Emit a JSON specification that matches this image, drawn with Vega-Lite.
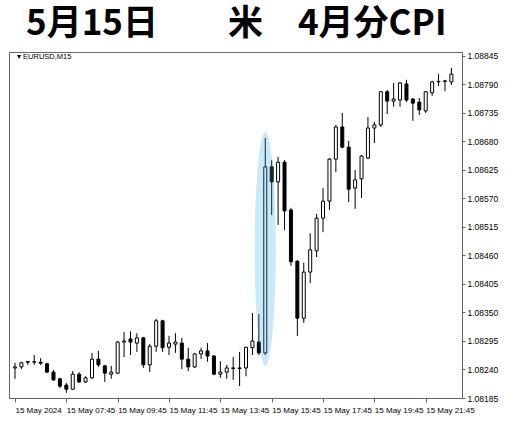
{
  "$schema": "https://vega.github.io/schema/vega-lite/v6.json",
  "width": 453,
  "height": 346,
  "autosize": "none",
  "padding": {"left": 9, "top": 52, "right": 54, "bottom": 24},
  "background": "white",
  "title": {
    "text": "5月15日　　米　4月分CPI",
    "font": "Noto Sans CJK JP",
    "fontWeight": "bold",
    "fontSize": 35,
    "color": "#000000",
    "anchor": "start",
    "frame": "group",
    "baseline": "alphabetic",
    "dx": 17,
    "dy": 35,
    "offset": 17
  },
  "config": {
    "view": {"stroke": "#666666", "strokeWidth": 1},
    "axis": {
      "labelFont": "Liberation Sans",
      "labelFontSize": 8,
      "labelColor": "#000000",
      "tickColor": "#666666",
      "domain": false,
      "grid": false,
      "title": null,
      "labelOverlap": false,
      "labelFlush": false
    }
  },
  "data": {
    "values": [
      {"time": "2024-05-15 05:45", "open": 1.08243, "high": 1.08253, "low": 1.08222, "close": 1.08245},
      {"time": "2024-05-15 06:00", "open": 1.08245, "high": 1.08255, "low": 1.08241, "close": 1.08253},
      {"time": "2024-05-15 06:15", "open": 1.08255, "high": 1.08256, "low": 1.08249, "close": 1.08254},
      {"time": "2024-05-15 06:30", "open": 1.08254, "high": 1.08268, "low": 1.08249, "close": 1.08255},
      {"time": "2024-05-15 06:45", "open": 1.08254, "high": 1.08262, "low": 1.08249, "close": 1.08252},
      {"time": "2024-05-15 07:00", "open": 1.08251, "high": 1.08253, "low": 1.08233, "close": 1.08235},
      {"time": "2024-05-15 07:15", "open": 1.08235, "high": 1.08239, "low": 1.08218, "close": 1.08220},
      {"time": "2024-05-15 07:30", "open": 1.08222, "high": 1.08224, "low": 1.08204, "close": 1.08208},
      {"time": "2024-05-15 07:45", "open": 1.08210, "high": 1.08214, "low": 1.08195, "close": 1.08202},
      {"time": "2024-05-15 08:00", "open": 1.08202, "high": 1.08237, "low": 1.08201, "close": 1.08231},
      {"time": "2024-05-15 08:15", "open": 1.08231, "high": 1.08235, "low": 1.08214, "close": 1.08216},
      {"time": "2024-05-15 08:30", "open": 1.08216, "high": 1.08227, "low": 1.08214, "close": 1.08224},
      {"time": "2024-05-15 08:45", "open": 1.08224, "high": 1.08272, "low": 1.08222, "close": 1.08260},
      {"time": "2024-05-15 09:00", "open": 1.08260, "high": 1.08276, "low": 1.08245, "close": 1.08249},
      {"time": "2024-05-15 09:15", "open": 1.08247, "high": 1.08249, "low": 1.08216, "close": 1.08233},
      {"time": "2024-05-15 09:30", "open": 1.08231, "high": 1.08247, "low": 1.08222, "close": 1.08235},
      {"time": "2024-05-15 09:45", "open": 1.08233, "high": 1.08295, "low": 1.08231, "close": 1.08293},
      {"time": "2024-05-15 10:00", "open": 1.08293, "high": 1.08312, "low": 1.08264, "close": 1.08295},
      {"time": "2024-05-15 10:15", "open": 1.08299, "high": 1.08314, "low": 1.08268, "close": 1.08293},
      {"time": "2024-05-15 10:30", "open": 1.08291, "high": 1.08310, "low": 1.08274, "close": 1.08301},
      {"time": "2024-05-15 10:45", "open": 1.08301, "high": 1.08303, "low": 1.08243, "close": 1.08249},
      {"time": "2024-05-15 11:00", "open": 1.08249, "high": 1.08289, "low": 1.08235, "close": 1.08285},
      {"time": "2024-05-15 11:15", "open": 1.08285, "high": 1.08338, "low": 1.08274, "close": 1.08334},
      {"time": "2024-05-15 11:30", "open": 1.08334, "high": 1.08336, "low": 1.08274, "close": 1.08282},
      {"time": "2024-05-15 11:45", "open": 1.08283, "high": 1.08305, "low": 1.08268, "close": 1.08291},
      {"time": "2024-05-15 12:00", "open": 1.08289, "high": 1.08310, "low": 1.08272, "close": 1.08293},
      {"time": "2024-05-15 12:15", "open": 1.08291, "high": 1.08301, "low": 1.08241, "close": 1.08260},
      {"time": "2024-05-15 12:30", "open": 1.08260, "high": 1.08282, "low": 1.08237, "close": 1.08245},
      {"time": "2024-05-15 12:45", "open": 1.08245, "high": 1.08272, "low": 1.08243, "close": 1.08270},
      {"time": "2024-05-15 13:00", "open": 1.08270, "high": 1.08282, "low": 1.08260, "close": 1.08276},
      {"time": "2024-05-15 13:15", "open": 1.08276, "high": 1.08291, "low": 1.08255, "close": 1.08266},
      {"time": "2024-05-15 13:30", "open": 1.08266, "high": 1.08268, "low": 1.08229, "close": 1.08231},
      {"time": "2024-05-15 13:45", "open": 1.08231, "high": 1.08256, "low": 1.08224, "close": 1.08235},
      {"time": "2024-05-15 14:00", "open": 1.08235, "high": 1.08249, "low": 1.08222, "close": 1.08243},
      {"time": "2024-05-15 14:15", "open": 1.08243, "high": 1.08264, "low": 1.08220, "close": 1.08242},
      {"time": "2024-05-15 14:30", "open": 1.08242, "high": 1.08274, "low": 1.08208, "close": 1.08243},
      {"time": "2024-05-15 14:45", "open": 1.08243, "high": 1.08283, "low": 1.08227, "close": 1.08283},
      {"time": "2024-05-15 15:00", "open": 1.08282, "high": 1.08349, "low": 1.08268, "close": 1.08295},
      {"time": "2024-05-15 15:15", "open": 1.08293, "high": 1.08347, "low": 1.08268, "close": 1.08272},
      {"time": "2024-05-15 15:30", "open": 1.08272, "high": 1.08687, "low": 1.08268, "close": 1.08631},
      {"time": "2024-05-15 15:45", "open": 1.08631, "high": 1.08644, "low": 1.08538, "close": 1.08602},
      {"time": "2024-05-15 16:00", "open": 1.08602, "high": 1.08650, "low": 1.08519, "close": 1.08640},
      {"time": "2024-05-15 16:15", "open": 1.08640, "high": 1.08644, "low": 1.08509, "close": 1.08546},
      {"time": "2024-05-15 16:30", "open": 1.08548, "high": 1.08552, "low": 1.08440, "close": 1.08448},
      {"time": "2024-05-15 16:45", "open": 1.08449, "high": 1.08451, "low": 1.08305, "close": 1.08339},
      {"time": "2024-05-15 17:00", "open": 1.08339, "high": 1.08446, "low": 1.08330, "close": 1.08428},
      {"time": "2024-05-15 17:15", "open": 1.08428, "high": 1.08503, "low": 1.08407, "close": 1.08471},
      {"time": "2024-05-15 17:30", "open": 1.08469, "high": 1.08540, "low": 1.08457, "close": 1.08532},
      {"time": "2024-05-15 17:45", "open": 1.08532, "high": 1.08590, "low": 1.08505, "close": 1.08565},
      {"time": "2024-05-15 18:00", "open": 1.08565, "high": 1.08648, "low": 1.08548, "close": 1.08646},
      {"time": "2024-05-15 18:15", "open": 1.08646, "high": 1.08712, "low": 1.08621, "close": 1.08708},
      {"time": "2024-05-15 18:30", "open": 1.08708, "high": 1.08735, "low": 1.08667, "close": 1.08669},
      {"time": "2024-05-15 18:45", "open": 1.08669, "high": 1.08681, "low": 1.08563, "close": 1.08588},
      {"time": "2024-05-15 19:00", "open": 1.08590, "high": 1.08625, "low": 1.08550, "close": 1.08606},
      {"time": "2024-05-15 19:15", "open": 1.08608, "high": 1.08654, "low": 1.08571, "close": 1.08652},
      {"time": "2024-05-15 19:30", "open": 1.08648, "high": 1.08727, "low": 1.08646, "close": 1.08706},
      {"time": "2024-05-15 19:45", "open": 1.08706, "high": 1.08718, "low": 1.08677, "close": 1.08712},
      {"time": "2024-05-15 20:00", "open": 1.08712, "high": 1.08777, "low": 1.08708, "close": 1.08776},
      {"time": "2024-05-15 20:15", "open": 1.08776, "high": 1.08779, "low": 1.08733, "close": 1.08758},
      {"time": "2024-05-15 20:30", "open": 1.08758, "high": 1.08793, "low": 1.08747, "close": 1.08762},
      {"time": "2024-05-15 20:45", "open": 1.08760, "high": 1.08795, "low": 1.08747, "close": 1.08793},
      {"time": "2024-05-15 21:00", "open": 1.08791, "high": 1.08799, "low": 1.08756, "close": 1.08760},
      {"time": "2024-05-15 21:15", "open": 1.08762, "high": 1.08764, "low": 1.08720, "close": 1.08754},
      {"time": "2024-05-15 21:30", "open": 1.08756, "high": 1.08764, "low": 1.08731, "close": 1.08741},
      {"time": "2024-05-15 21:45", "open": 1.08739, "high": 1.08777, "low": 1.08735, "close": 1.08776},
      {"time": "2024-05-15 22:00", "open": 1.08774, "high": 1.08797, "low": 1.08768, "close": 1.08795},
      {"time": "2024-05-15 22:15", "open": 1.08796, "high": 1.08810, "low": 1.08787, "close": 1.08795},
      {"time": "2024-05-15 22:30", "open": 1.08796, "high": 1.08799, "low": 1.08777, "close": 1.08797},
      {"time": "2024-05-15 22:45", "open": 1.08795, "high": 1.08822, "low": 1.08789, "close": 1.08810}
    ]
  },
  "encoding": {
    "x": {
      "field": "time",
      "type": "temporal",
      "scale": {
        "domain": [
          {"year": 2024, "month": 5, "date": 15, "hours": 5, "minutes": 42, "seconds": 43},
          {"year": 2024, "month": 5, "date": 15, "hours": 22, "minutes": 58, "seconds": 8}
        ]
      },
      "axis": {
        "orient": "bottom",
        "values": [
          {"year": 2024, "month": 5, "date": 15, "hours": 5, "minutes": 45},
          {"year": 2024, "month": 5, "date": 15, "hours": 7, "minutes": 45},
          {"year": 2024, "month": 5, "date": 15, "hours": 9, "minutes": 45},
          {"year": 2024, "month": 5, "date": 15, "hours": 11, "minutes": 45},
          {"year": 2024, "month": 5, "date": 15, "hours": 13, "minutes": 45},
          {"year": 2024, "month": 5, "date": 15, "hours": 15, "minutes": 45},
          {"year": 2024, "month": 5, "date": 15, "hours": 17, "minutes": 45},
          {"year": 2024, "month": 5, "date": 15, "hours": 19, "minutes": 45},
          {"year": 2024, "month": 5, "date": 15, "hours": 21, "minutes": 45}
        ],
        "labelExpr": "hours(datum.value) == 5 ? '15 May 2024' : timeFormat(datum.value, '%d %b %H:%M')",
        "labelAlign": "left",
        "labelBaseline": "top",
        "labelPadding": 4,
        "labelOverlap": false,
        "tickSize": 4
      }
    },
    "y": {
      "field": "low",
      "type": "quantitative",
      "scale": {"domain": [1.08185, 1.088527], "zero": false, "nice": false},
      "axis": {
        "orient": "right",
        "values": [1.08185, 1.0824, 1.08295, 1.0835, 1.08405, 1.0846, 1.08515, 1.0857, 1.08625, 1.0868, 1.08735, 1.0879, 1.08845],
        "labelExpr": "format(datum.value, '.5f')",
        "tickSize": 3,
        "labelPadding": 2,
        "labelBaseline": "middle",
        "labelOverlap": false,
        "labelSeparation": 0,
        "labelFontSize": 8.5
      }
    }
  },
  "layer": [
    {
      "mark": {"type": "rule", "color": "#000000", "strokeWidth": 1, "clip": true},
      "encoding": {
        "y2": {"field": "high"}
      }
    },
    {
      "mark": {"type": "bar", "size": 3, "stroke": "#000000", "strokeWidth": 1, "clip": true},
      "encoding": {
        "y": {"field": "open", "type": "quantitative"},
        "y2": {"field": "close"},
        "fill": {
          "condition": {"test": "datum.close > datum.open", "value": "#ffffff"},
          "value": "#000000"
        }
      }
    },
    {
      "data": {"values": [{"time": "2024-05-15 15:30", "price": 1.084725}]},
      "mark": {
        "type": "point",
        "shape": "M0,-1 A0.09 1 0 1 1 0 1 A0.09 1 0 1 1 0 -1 Z",
        "filled": true,
        "size": 54756,
        "fill": "#2aaae6",
        "fillOpacity": 0.25,
        "strokeWidth": 0
      },
      "encoding": {
        "y": {"field": "price", "type": "quantitative"}
      }
    },
    {
      "data": {"values": [{"time": "2024-05-15 05:45", "price": 1.08845, "symbol": "▾ EURUSD,M15"}]},
      "mark": {
        "type": "text",
        "font": "Liberation Sans",
        "fontSize": 7.5,
        "color": "#000000",
        "align": "left",
        "baseline": "middle",
        "dx": 2,
        "dy": 1
      },
      "encoding": {
        "y": {"field": "price", "type": "quantitative"},
        "text": {"field": "symbol"}
      }
    }
  ]
}
